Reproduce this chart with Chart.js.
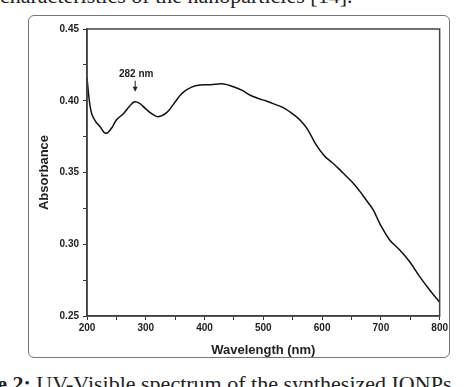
<!DOCTYPE html>
<html>
<head>
<meta charset="utf-8">
<script src="https://cdn.jsdelivr.net/npm/chart.js@4/dist/chart.umd.min.js"></script>
<style>
  body { margin: 0; width: 474px; height: 387px; overflow: hidden; background: #fff; position: relative; }
  .pageText { position: absolute; font-family: "Liberation Serif", "DejaVu Serif", serif; font-size: 22px; color: #222; white-space: nowrap; }
  #topLine { left: 0; top: -17px; }
  #caption { left: -55px; top: 371px; }
  #box { position: absolute; left: 28px; top: 15px; width: 420px; height: 341px; border: 1px solid #777; border-radius: 6px; }
  #wrap { position: absolute; left: 28px; top: 15px; width: 422px; height: 343px; }
</style>
</head>
<body>
<div id="topLine" class="pageText">characteristics of the nanoparticles [14].</div>
<div id="box"></div>
<div id="wrap"><canvas id="chart"></canvas></div>
<div id="caption" class="pageText"><b>Figure 2:</b> UV-Visible spectrum of the synthesized IONPs</div>
<script>
// wavelength (nm) and absorbance
const wavelengths = [200, 204, 208, 214, 222, 232, 242, 250, 262, 272, 281, 290, 299, 310, 321, 335, 347, 356, 364, 378, 392, 410, 432, 449, 465, 477, 492, 505, 520, 534, 546, 556, 566, 576, 590, 604, 617, 630, 642, 653, 664, 675, 687, 698, 715, 732, 749, 766, 783, 797, 800];
const absorbance = [0.416, 0.400, 0.391, 0.386, 0.382, 0.3773, 0.381, 0.3866, 0.391, 0.396, 0.3993, 0.398, 0.3947, 0.391, 0.3889, 0.3915, 0.3975, 0.4025, 0.406, 0.4095, 0.411, 0.4112, 0.4117, 0.4098, 0.407, 0.404, 0.4015, 0.3998, 0.3975, 0.3952, 0.392, 0.3889, 0.385, 0.3796, 0.3692, 0.3615, 0.357, 0.352, 0.347, 0.3425, 0.337, 0.3308, 0.3239, 0.3146, 0.303, 0.296, 0.2878, 0.2774, 0.2681, 0.2611, 0.2595];
const xTicks = [200, 300, 400, 500, 600, 700, 800];
const yTicks = [0.25, 0.30, 0.35, 0.40, 0.45];
const peakLabel = '282 nm';
const peakX = 282;
const peakY = 0.3993;

const points = wavelengths.map((w, i) => ({ x: w, y: absorbance[i] }));

// frame around the plot area (top and right edges)
const framePlugin = {
    id: 'frame',
    afterDraw(chart) {
        const a = chart.chartArea;
        const ctx = chart.ctx;
        ctx.save();
        ctx.strokeStyle = '#444';
        ctx.lineWidth = 1.5;
        ctx.strokeRect(a.left, a.top, a.right - a.left, a.bottom - a.top);
        ctx.restore();
    }
};

// "282 nm" label with arrow
const peakPlugin = {
    id: 'peak',
    afterDatasetsDraw(chart) {
        const ctx = chart.ctx;
        const px = chart.scales.x.getPixelForValue(peakX);
        const py = chart.scales.y.getPixelForValue(peakY);
        ctx.save();
        ctx.fillStyle = '#222';
        ctx.strokeStyle = '#222';
        ctx.font = 'bold 10px "Liberation Sans", Arial, sans-serif';
        ctx.textAlign = 'center';
        ctx.textBaseline = 'middle';
        ctx.fillText(peakLabel, px + 1, py - 28);
        ctx.lineWidth = 1;
        ctx.beginPath();
        ctx.moveTo(px, py - 21);
        ctx.lineTo(px, py - 12);
        ctx.stroke();
        ctx.beginPath();
        ctx.moveTo(px - 2.5, py - 15);
        ctx.lineTo(px + 2.5, py - 15);
        ctx.lineTo(px, py - 10);
        ctx.closePath();
        ctx.fill();
        ctx.restore();
    }
};

const tickFont = { family: '"Liberation Sans", Arial, sans-serif', size: 10, weight: 'bold' };
const titleFont = { family: '"Liberation Sans", Arial, sans-serif', size: 13, weight: 'bold' };

new Chart(document.getElementById('chart'), {
    type: 'line',
    data: {
        datasets: [{
            data: points,
            borderColor: '#111',
            borderWidth: 1.5,
            pointRadius: 0,
            tension: 0.4,
            fill: false
        }]
    },
    options: {
        responsive: true,
        maintainAspectRatio: false,
        animation: false,
        layout: { padding: { left: 0, top: 14, right: 10, bottom: 0 } },
        plugins: { legend: { display: false }, tooltip: { enabled: false } },
        scales: {
            x: {
                type: 'linear',
                min: 200,
                max: 800,
                afterFit(scale) { scale.height = 42; },
                ticks: {
                    stepSize: 50,
                    color: '#222',
                    font: tickFont,
                    padding: 2,
                    maxRotation: 0,
                    autoSkip: false,
                    callback: v => xTicks.includes(v) ? String(v) : ''
                },
                grid: { display: true, drawOnChartArea: false, drawTicks: true, tickLength: 4, color: '#333' },
                border: { display: true, color: '#333', width: 1.5 },
                title: {
                    display: true,
                    text: 'Wavelength (nm)',
                    color: '#222',
                    font: titleFont,
                    padding: { top: 4, bottom: 0 }
                }
            },
            y: {
                min: 0.25,
                max: 0.45,
                afterFit(scale) { scale.width = 59; },
                ticks: {
                    stepSize: 0.025,
                    color: '#222',
                    font: tickFont,
                    padding: 4,
                    autoSkip: false,
                    callback: v => yTicks.some(t => Math.abs(t - v) < 1e-6) ? v.toFixed(2) : ''
                },
                grid: { display: true, drawOnChartArea: false, drawTicks: true, tickLength: 4, color: '#333' },
                border: { display: true, color: '#333', width: 1.5 },
                title: {
                    display: true,
                    text: 'Absorbance',
                    color: '#222',
                    font: titleFont,
                    padding: { top: 9, bottom: 4 }
                }
            }
        }
    },
    plugins: [framePlugin, peakPlugin]
});
</script>
</body>
</html>
